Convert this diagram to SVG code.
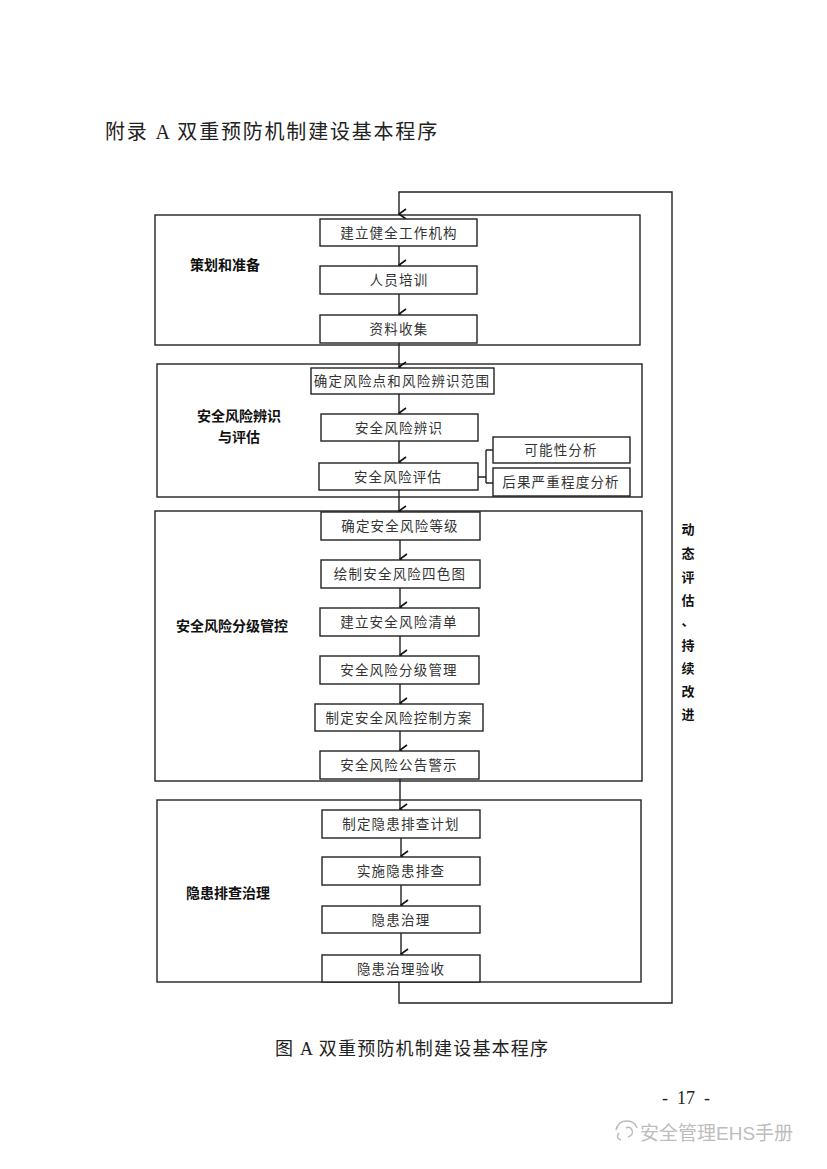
<svg xmlns="http://www.w3.org/2000/svg" width="827" height="1169" viewBox="0 0 827 1169">
<style>
.frame{fill:none;stroke:#222;stroke-width:1.4}
.box{fill:#fff;stroke:#222;stroke-width:1.4}
.bt{font-family:"Liberation Serif","Noto Sans CJK SC",serif;font-size:13.5px;fill:#333;text-anchor:middle;letter-spacing:1.2px}
.lab{font-family:"Liberation Sans","Noto Sans CJK SC",sans-serif;font-size:14px;font-weight:bold;fill:#111}
.conn{fill:none;stroke:#222;stroke-width:1.4}
.arr{marker-end:url(#ah)}
.title{font-family:"Liberation Serif","Noto Sans CJK SC",serif;font-size:20px;fill:#222;letter-spacing:1.8px}
.vt{font-family:"Liberation Sans","Noto Sans CJK SC",sans-serif;font-size:13px;font-weight:bold;fill:#111;text-anchor:middle}
</style>
<defs>
<marker id="ah" viewBox="0 0 12 12" refX="6" refY="11" markerWidth="12" markerHeight="12" markerUnits="userSpaceOnUse" orient="auto-start-reverse">
<path d="M1,4 L6,11 L11,4" fill="none" stroke="#111" stroke-width="1.6"/>
</marker>
</defs>
<rect width="827" height="1169" fill="#fff"/>
<text class="title" x="105" y="139" xml:space="preserve">附录 A 双重预防机制建设基本程序</text>

<g id="group1">
<rect class="frame" x="155" y="215" width="485" height="130"/>
<text class="lab" x="190" y="270">策划和准备</text>
</g>
<g id="group2">
<rect class="frame" x="157" y="364" width="485" height="133"/>
<text class="lab" x="197" y="421">安全风险辨识</text>
<text class="lab" x="218" y="442">与评估</text>
</g>
<g id="group3">
<rect class="frame" x="155" y="511" width="487" height="270"/>
<text class="lab" x="176" y="631">安全风险分级管控</text>
</g>
<g id="group4">
<rect class="frame" x="157" y="800" width="484" height="182"/>
<text class="lab" x="186" y="898">隐患排查治理</text>
</g>

<g id="connectors">
<path class="conn" d="M399,982 V1003 H672 V192 H399 V214" marker-end="url(#ah)"/>
<line class="conn arr" x1="399" y1="246" x2="399" y2="265"/>
<line class="conn arr" x1="399" y1="294" x2="399" y2="314"/>
<line class="conn arr" x1="399" y1="343" x2="399" y2="367"/>
<line class="conn arr" x1="399" y1="394" x2="399" y2="413"/>
<line class="conn arr" x1="399" y1="441" x2="399" y2="462"/>
<line class="conn arr" x1="399" y1="490" x2="399" y2="511"/>
<line class="conn arr" x1="400" y1="540" x2="400" y2="559"/>
<line class="conn arr" x1="400" y1="588" x2="400" y2="607"/>
<line class="conn arr" x1="400" y1="636" x2="400" y2="655"/>
<line class="conn arr" x1="400" y1="684" x2="400" y2="703"/>
<line class="conn arr" x1="400" y1="731" x2="400" y2="750"/>
<line class="conn arr" x1="400" y1="779" x2="400" y2="809"/>
<line class="conn arr" x1="401" y1="838" x2="401" y2="856"/>
<line class="conn arr" x1="401" y1="885" x2="401" y2="905"/>
<line class="conn arr" x1="401" y1="933" x2="401" y2="954"/>
<path class="conn" d="M478,477 H486 M486,450 V483 M486,450 H493 M486,483 H493"/>
</g>

<g id="n1"><rect class="box" x="320" y="219" width="157" height="27"/><text class="bt" x="399" y="237.5">建立健全工作机构</text></g>
<g id="n2"><rect class="box" x="320" y="266" width="157" height="28"/><text class="bt" x="399" y="285">人员培训</text></g>
<g id="n3"><rect class="box" x="320" y="315" width="157" height="28"/><text class="bt" x="399" y="334">资料收集</text></g>

<g id="n4"><rect class="box" x="311" y="368" width="183" height="26"/><text class="bt" x="402" y="386">确定风险点和风险辨识范围</text></g>
<g id="n5"><rect class="box" x="321" y="414" width="157" height="27"/><text class="bt" x="399" y="432.5">安全风险辨识</text></g>
<g id="n6"><rect class="box" x="319" y="463" width="159" height="27"/><text class="bt" x="398" y="481.5">安全风险评估</text></g>
<g id="n7"><rect class="box" x="493" y="437" width="137" height="26"/><text class="bt" x="561" y="455">可能性分析</text></g>
<g id="n8"><rect class="box" x="493" y="468" width="137" height="28"/><text class="bt" x="561" y="487">后果严重程度分析</text></g>

<g id="n9"><rect class="box" x="321" y="512" width="159" height="28"/><text class="bt" x="400" y="531">确定安全风险等级</text></g>
<g id="n10"><rect class="box" x="321" y="560" width="159" height="28"/><text class="bt" x="400" y="579">绘制安全风险四色图</text></g>
<g id="n11"><rect class="box" x="320" y="608" width="159" height="28"/><text class="bt" x="399" y="627">建立安全风险清单</text></g>
<g id="n12"><rect class="box" x="320" y="656" width="159" height="28"/><text class="bt" x="399" y="675">安全风险分级管理</text></g>
<g id="n13"><rect class="box" x="315" y="704" width="168" height="27"/><text class="bt" x="399" y="722.5">制定安全风险控制方案</text></g>
<g id="n14"><rect class="box" x="320" y="751" width="159" height="28"/><text class="bt" x="399" y="770">安全风险公告警示</text></g>

<g id="n15"><rect class="box" x="322" y="810" width="158" height="28"/><text class="bt" x="401" y="829">制定隐患排查计划</text></g>
<g id="n16"><rect class="box" x="322" y="857" width="158" height="28"/><text class="bt" x="401" y="876">实施隐患排查</text></g>
<g id="n17"><rect class="box" x="322" y="906" width="158" height="27"/><text class="bt" x="401" y="924.5">隐患治理</text></g>
<g id="n18"><rect class="box" x="322" y="955" width="158" height="27"/><text class="bt" x="401" y="973.5">隐患治理验收</text></g>

<g id="loop-label">
<text class="vt" x="688" y="534">动</text>
<text class="vt" x="688" y="558">态</text>
<text class="vt" x="688" y="582">评</text>
<text class="vt" x="688" y="605">估</text>
<text class="vt" x="688" y="625">、</text>
<text class="vt" x="688" y="650">持</text>
<text class="vt" x="688" y="673">续</text>
<text class="vt" x="688" y="696">改</text>
<text class="vt" x="688" y="719">进</text>
</g>

<text class="title" x="275" y="1055" style="font-size:18px;letter-spacing:1.2px" xml:space="preserve">图 A 双重预防机制建设基本程序</text>
<text x="686" y="1104" style="font-family:'Liberation Serif',serif;font-size:18px;fill:#222;text-anchor:middle" xml:space="preserve">-  17  -</text>
<g id="watermark">
<path d="M616,1130 q2,-9 11,-9 q8,0 10,7 M619,1133 q-4,5 2,7 M626,1128 q4,-2 6,2 q2,5 -4,7" fill="none" stroke="#bbb" stroke-width="1.5"/>
<text x="640" y="1140" style="font-family:'Liberation Sans','Noto Sans CJK SC',sans-serif;font-size:19px;fill:#bdbdbd">安全管理EHS手册</text>
</g>
</svg>
